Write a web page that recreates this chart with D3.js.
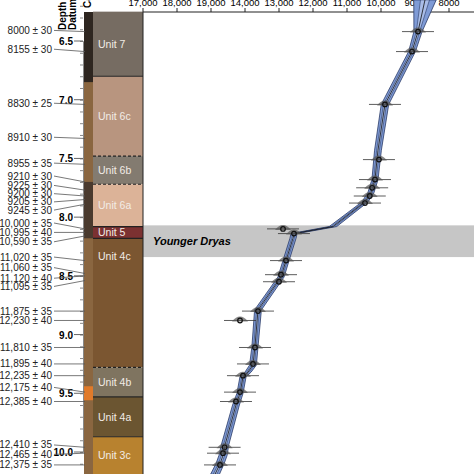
<!DOCTYPE html>
<html><head><meta charset="utf-8">
<script src="https://cdn.jsdelivr.net/npm/d3@7"></script>
<style>body{margin:0;background:#fff}svg{font-family:"Liberation Sans Narrow",Arial,"Liberation Sans",sans-serif}</style>
</head><body>
<script>
// age-depth model (cal BP vs depth m)
const modelDepth = [6.15, 6.42, 6.59, 7.04, 7.43, 7.68, 7.79, 7.87, 8.08, 8.14, 8.18, 8.37, 8.51, 8.79, 9.10, 9.26, 9.32, 9.36, 9.50, 9.60, 9.94, 10.03, 10.10, 10.19];
const modelAge   = [8706, 8912, 9088, 9883, 10089, 10177, 10295, 10471, 11412, 12559, 12588, 12794, 12941, 13618, 13706, 13765, 13912, 14059, 14147, 14265, 14588, 14647, 14735, 14882];
const modelErr   = [330, 120, 100, 110, 100, 90, 90, 90, 110, 90, 90, 90, 90, 100, 90, 100, 90, 90, 90, 100, 110, 120, 120, 130];

const dateDepth = [6.42, 6.59, 7.04, 7.51, 7.68, 7.75, 7.82, 7.88, 8.10, 8.14, 8.37, 8.49, 8.55, 8.80, 8.88, 9.11, 9.25, 9.35, 9.49, 9.57, 9.96, 10.01, 10.11];
const dateAge   = [8912, 9088, 9883, 10060, 10177, 10260, 10330, 10471, 12882, 12560, 12794, 12941, 13000, 13618, 14147, 13706, 13765, 14059, 14147, 14265, 14600, 14647, 14735];

// radiocarbon labels: text, label y-depth, core depth
const c14Label = ["8000 ± 30","8155 ± 30","8830 ± 25","8910 ± 30","8955 ± 35","9210 ± 30","9225 ± 30","9200 ± 30","9205 ± 30","9245 ± 30","10,000 ± 35","10,995 ± 40","10,590 ± 35","11,020 ± 35","11,060 ± 35","11,120 ± 40","11,095 ± 35","11,875 ± 35","12,230 ± 40","11,810 ± 35","11,895 ± 40","12,235 ± 40","12,175 ± 40","12,385 ± 40","12,410 ± 35","12,465 ± 40","12,375 ± 35"];
const c14LabelDepth = [6.41, 6.57, 7.03, 7.32, 7.54, 7.65, 7.73, 7.80, 7.87, 7.94, 8.05, 8.13, 8.21, 8.34, 8.43, 8.52, 8.59, 8.80, 8.88, 9.11, 9.25, 9.35, 9.45, 9.57, 9.94, 10.02, 10.11];
const c14CoreDepth  = [6.42, 6.59, 7.04, 7.33, 7.55, 7.70, 7.77, 7.82, 7.85, 7.89, 8.10, 8.13, 8.16, 8.37, 8.48, 8.50, 8.54, 8.80, 8.88, 9.11, 9.25, 9.35, 9.49, 9.57, 9.96, 10.01, 10.11];

const unitName = ["Unit 7","Unit 6c","Unit 6b","Unit 6a","Unit 5","Unit 4c","Unit 4b","Unit 4a","Unit 3c"];
const unitTop  = [6.25, 6.80, 7.48, 7.72, 8.08, 8.18, 9.28, 9.53, 9.87];
const unitBot  = [6.80, 7.48, 7.72, 8.08, 8.18, 9.28, 9.53, 9.87, 10.40];
const unitColor = ["#766c62","#b8957f","#837b70","#dcb398","#7b3131","#7b5631","#7f7460","#6b5531","#b8822f"];
const dashedTop = [false,false,true,true,false,false,true,false,false];

const ageTicks = [17000,16000,15000,14000,13000,12000,11000,10000,9000,8000];
const ageTickLabel = ["17,000","18,000","19,000","14,000","13,000","12,000","11,000","10,000","9000","8000"];
const ydTop = 8.07, ydBot = 8.34;

const W = 474, H = 474;
const svg = d3.select("body").append("svg").attr("width", W).attr("height", H);
const x = d3.scaleLinear().domain([17000, 8000]).range([143, 449]);
const y = d3.scaleLinear().domain([6.5, 10.0]).range([41, 452]);

// Younger Dryas band
svg.append("rect").attr("x", 143).attr("width", W - 143)
  .attr("y", y(ydTop)).attr("height", y(ydBot) - y(ydTop)).attr("fill", "#c6c6c6");
svg.append("text").attr("x", 153).attr("y", (y(ydTop) + y(ydBot)) / 2 + 4)
  .attr("font-family", "Arial, Liberation Sans, sans-serif")
  .attr("font-size", 11).attr("font-weight", "bold").attr("font-style", "italic").text("Younger Dryas");

// core photo strip
const core = svg.append("g");
core.append("rect").attr("x", 84).attr("y", 12).attr("width", 9).attr("height", H).attr("fill", "#8a6640");
core.append("rect").attr("x", 84).attr("y", 12).attr("width", 9).attr("height", y(6.85) - 12).attr("fill", "#2e2620");
core.append("rect").attr("x", 84).attr("y", y(7.7)).attr("width", 9).attr("height", y(8.18) - y(7.7)).attr("fill", "#4a3a2e");
core.append("rect").attr("x", 84).attr("y", y(9.44)).attr("width", 9).attr("height", 14).attr("fill", "#e07a2a");

// units
const units = svg.append("g");
unitName.forEach((n, i) => {
  units.append("rect").attr("x", 93).attr("width", 50)
    .attr("y", y(unitTop[i])).attr("height", y(unitBot[i]) - y(unitTop[i])).attr("fill", unitColor[i]);
  if (i > 0) units.append("line").attr("x1", 93).attr("x2", 143)
    .attr("y1", y(unitTop[i])).attr("y2", y(unitTop[i]))
    .attr("stroke", "#222").attr("stroke-width", 1.2).attr("stroke-dasharray", dashedTop[i] ? "3,2" : null);
  const cy = i === 5 ? y(unitTop[i]) + 22 : (y(unitTop[i]) + Math.min(y(unitBot[i]), H)) / 2 + 4;
  units.append("text").attr("x", 98).attr("y", cy).attr("fill", "#f2ece6").attr("font-size", 10.5).text(n);
});
svg.append("line").attr("x1", 143).attr("x2", 143).attr("y1", 12).attr("y2", H).attr("stroke", "#222");

// depth axis
svg.append("g").attr("transform", "translate(83,0)")
  .call(d3.axisLeft(y).tickValues(d3.range(6.1, 10.4, 0.1)).tickSize(3).tickFormat(""))
  .call(g => g.select(".domain").attr("stroke", "#888"))
  .call(g => g.selectAll("line").attr("stroke", "#888"));
svg.append("g").selectAll("text").data([6.5, 7.0, 7.5, 8.0, 8.5, 9.0, 9.5, 10.0]).join("text")
  .attr("x", 73).attr("y", d => y(d) + 4).attr("text-anchor", "end")
  .attr("font-size", 10).attr("font-weight", "bold").text(d => d.toFixed(1));
svg.append("g").selectAll("line").data([6.5, 7.0, 7.5, 8.0, 8.5, 9.0, 9.5, 10.0]).join("line")
  .attr("x1", 74).attr("x2", 83).attr("y1", d => y(d)).attr("y2", d => y(d)).attr("stroke", "#666");

// headers
[["Depth", 66], ["Datum", 76], ["Ca", 91]].forEach(([t, px]) =>
  svg.append("text").attr("transform", `translate(${px},${t === "Ca" ? 8 : 30}) rotate(-90)`)
    .attr("font-size", 10).attr("font-weight", "bold").text(t));

// C14 labels with leaders
const lab = svg.append("g");
c14Label.forEach((t, i) => {
  lab.append("text").attr("x", 52).attr("y", y(c14LabelDepth[i]) + 3.5).attr("text-anchor", "end")
    .attr("font-size", 10).attr("fill", "#222").text(t);
  lab.append("line").attr("x1", 54).attr("x2", 85)
    .attr("y1", y(c14LabelDepth[i])).attr("y2", y(c14CoreDepth[i])).attr("stroke", "#555").attr("stroke-width", 0.8);
});

// top age axis
svg.append("line").attr("x1", 143).attr("x2", W).attr("y1", 12).attr("y2", 12).attr("stroke", "#222").attr("stroke-width", 1.2);
svg.append("g").selectAll("g").data(ageTicks).join("g").each(function(d, i) {
  const g = d3.select(this);
  g.append("line").attr("x1", x(d)).attr("x2", x(d)).attr("y1", 8).attr("y2", 12).attr("stroke", "#222");
  g.append("text").attr("x", x(d)).attr("y", 6).attr("text-anchor", "middle").attr("font-size", 9.5).text(ageTickLabel[i]);
});

// age-depth envelope
const plot = svg.append("g");
const idx = d3.range(modelAge.length);
const area = d3.area().y(i => y(modelDepth[i])).x0(i => x(modelAge[i] - modelErr[i])).x1(i => x(modelAge[i] + modelErr[i]));
plot.append("path").datum(idx).attr("d", area).attr("fill", "#7f9bd6").attr("stroke", "#2a3a66").attr("stroke-width", 0.8);
const area2 = d3.area().y(i => y(modelDepth[i])).x0(i => x(modelAge[i] - modelErr[i] * 0.4)).x1(i => x(modelAge[i] + modelErr[i] * 0.4));
plot.append("path").datum(idx).attr("d", area2).attr("fill", "#a9bde8").attr("stroke", "#2a3a66").attr("stroke-width", 0.6);
plot.append("path").datum(idx).attr("d", d3.line().y(i => y(modelDepth[i])).x(i => x(modelAge[i])))
  .attr("fill", "none").attr("stroke", "#111").attr("stroke-width", 0.8);

// dated samples
dateAge.forEach((a, i) => {
  const px = x(a), py = y(dateDepth[i]);
  plot.append("line").attr("x1", px - 16).attr("x2", px + 16).attr("y1", py).attr("y2", py).attr("stroke", "#333").attr("stroke-width", 0.8);
  plot.append("path").attr("d", `M${px - 8},${py + 1}Q${px},${py - 9} ${px + 8},${py + 1}Z`).attr("fill", "#555").attr("opacity", 0.7);
  plot.append("circle").attr("cx", px).attr("cy", py).attr("r", 2.3).attr("fill", "none").attr("stroke", "#111").attr("stroke-width", 1.2);
});
</script>
</body></html>
